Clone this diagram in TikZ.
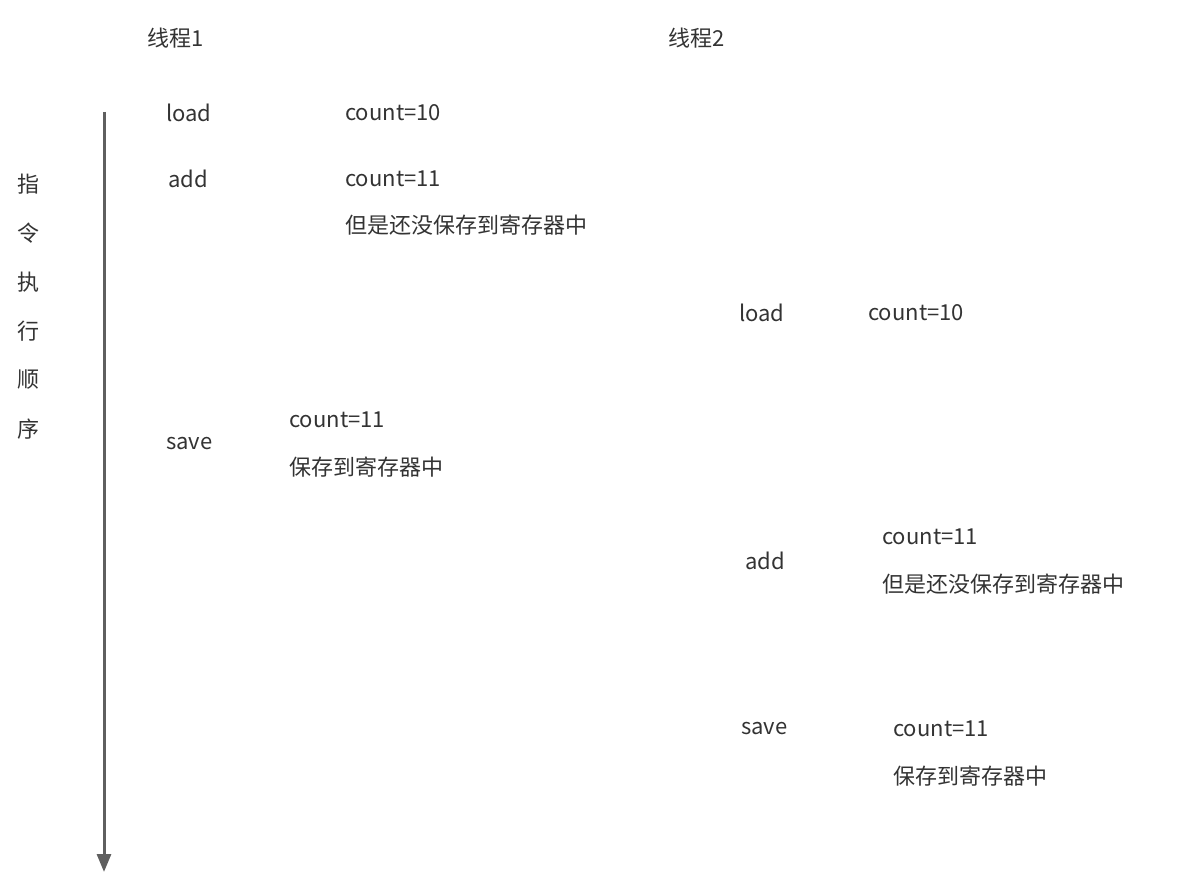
\documentclass[tikz,border=0pt]{standalone}
\usepackage{fontspec}
\setmainfont{Noto Sans CJK SC}
\usetikzlibrary{arrows.meta}
\definecolor{txt}{HTML}{333333}
\definecolor{arr}{HTML}{5F5F5F}
\begin{document}
\begin{tikzpicture}[x=1pt,y=-1pt,
  lbl/.style={anchor=west,inner sep=0pt,text=txt,font=\fontsize{22}{26}\selectfont}]
\useasboundingbox (0,0) rectangle (1204,872);
\node[lbl] (t1) at (147,38) {线程1};
\node[lbl] (t2) at (668,38) {线程2};
\coordinate (as) at (104,112);
\coordinate (ae) at (104,872);
\draw[arr,line width=3pt,-{Triangle[length=18pt,width=14pt]}] (as) -- (ae);
\foreach \c [count=\i] in {指,令,执,行,顺,序}{
  \node[lbl,anchor=center] (v\i) at (28,{135+49*\i}) {\c};
}
\node[lbl] (l1) at (166,113) {load};
\node[lbl] (l1c) at (345,113) {count=10};
\node[lbl] (a1) at (168,179) {add};
\node[lbl] (a1c) at (345,179) {count=11};
\node[lbl] (a1n) at (345,225) {但是还没保存到寄存器中};
\node[lbl] (l2) at (739,313) {load};
\node[lbl] (l2c) at (868,313) {count=10};
\node[lbl] (s1) at (166,444) {save};
\node[lbl] (s1c) at (289,420) {count=11};
\node[lbl] (s1n) at (289,467) {保存到寄存器中};
\node[lbl] (a2) at (745,561) {add};
\node[lbl] (a2c) at (882,537) {count=11};
\node[lbl] (a2n) at (882,584) {但是还没保存到寄存器中};
\node[lbl] (s2) at (741,729) {save};
\node[lbl] (s2c) at (893,729) {count=11};
\node[lbl] (s2n) at (893,776) {保存到寄存器中};
\end{tikzpicture}
\end{document}
